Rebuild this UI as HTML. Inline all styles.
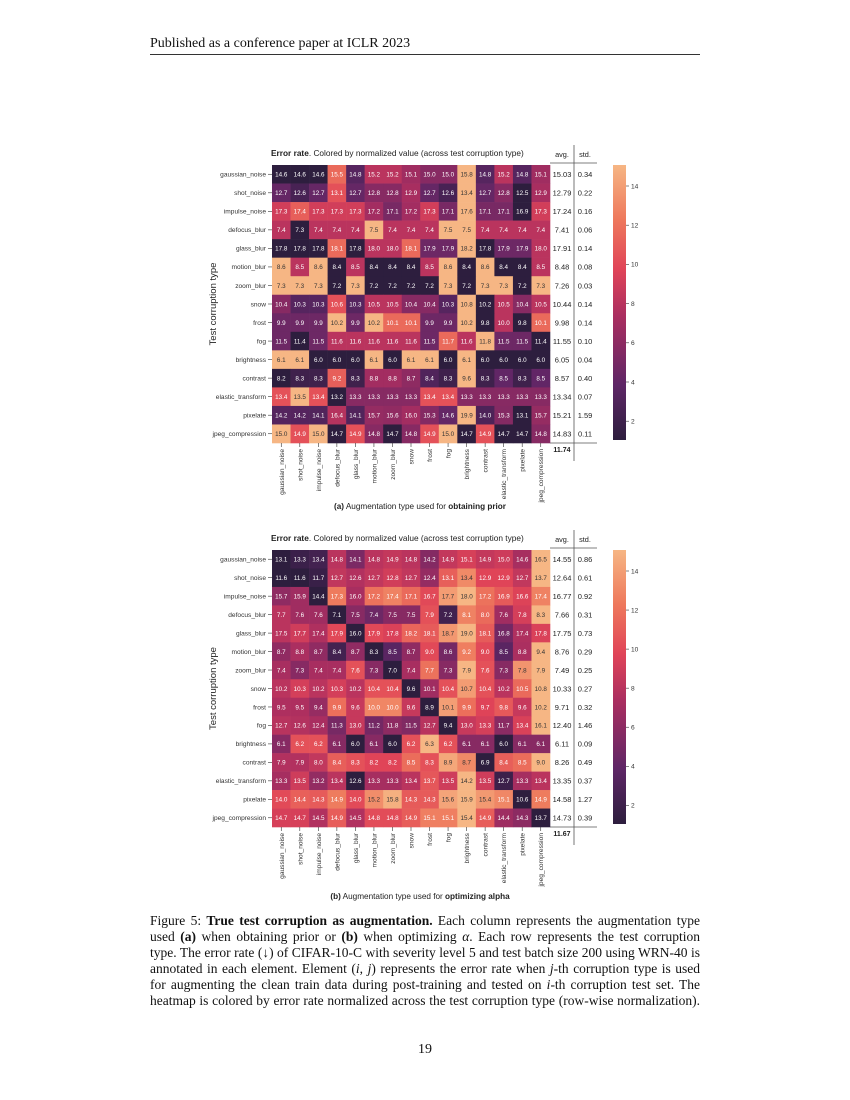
<!DOCTYPE html>
<html><head><meta charset="utf-8">
<style>
html,body{margin:0;padding:0;background:#fff}
body{width:850px;height:1100px;position:relative;overflow:hidden;font-family:"Liberation Serif",serif;color:#111}
#hdr{position:absolute;left:150px;top:36px;font-size:14px}
#hline{position:absolute;left:150px;top:54px;width:550px;height:1px;background:#333}
#cap{position:absolute;left:150px;top:913px;width:550px;font-size:13.5px;line-height:16.1px}
#cap div{text-align:justify;text-align-last:justify;white-space:nowrap}
#cap div.l{text-align-last:left}
#pg{position:absolute;left:0;width:850px;top:1042px;text-align:center;font-size:14px}
svg{position:absolute;left:0;top:0}
</style></head><body>
<div id="hdr">Published as a conference paper at ICLR 2023</div>
<div id="hline"></div>
<svg id="s" width="850" height="1100" font-family="Liberation Sans, DejaVu Sans, sans-serif"></svg>
<div id="cap">
<div>Figure 5: <b>True test corruption as augmentation.</b> Each column represents the augmentation type</div>
<div>used <b>(a)</b> when obtaining prior or <b>(b)</b> when optimizing <i>α</i>. Each row represents the test corruption</div>
<div>type. The error rate (↓) of CIFAR-10-C with severity level 5 and test batch size 200 using WRN-40 is</div>
<div>annotated in each element. Element (<i>i</i>, <i>j</i>) represents the error rate when <i>j</i>-th corruption type is used</div>
<div>for augmenting the clean train data during post-training and tested on <i>i</i>-th corruption test set. The</div>
<div>heatmap is colored by error rate normalized across the test corruption type (row-wise normalization).</div>
</div>
<div id="pg">19</div>
<script>
var L=["gaussian_noise","shot_noise","impulse_noise","defocus_blur","glass_blur","motion_blur","zoom_blur","snow","frost","fog","brightness","contrast","elastic_transform","pixelate","jpeg_compression"];
var A=[
"14.6 14.6 14.6 15.5 14.8 15.2 15.2 15.1 15.0 15.0 15.8 14.8 15.2 14.8 15.1|15.03|0.34",
"12.7 12.6 12.7 13.1 12.7 12.8 12.8 12.9 12.7 12.6 13.4 12.7 12.8 12.5 12.9|12.79|0.22",
"17.3 17.4 17.3 17.3 17.3 17.2 17.1 17.2 17.3 17.1 17.6 17.1 17.1 16.9 17.3|17.24|0.16",
"7.4 7.3 7.4 7.4 7.4 7.5 7.4 7.4 7.4 7.5 7.5 7.4 7.4 7.4 7.4|7.41|0.06",
"17.8 17.8 17.8 18.1 17.8 18.0 18.0 18.1 17.9 17.9 18.2 17.8 17.9 17.9 18.0|17.91|0.14",
"8.6 8.5 8.6 8.4 8.5 8.4 8.4 8.4 8.5 8.6 8.4 8.6 8.4 8.4 8.5|8.48|0.08",
"7.3 7.3 7.3 7.2 7.3 7.2 7.2 7.2 7.2 7.3 7.2 7.3 7.3 7.2 7.3|7.26|0.03",
"10.4 10.3 10.3 10.6 10.3 10.5 10.5 10.4 10.4 10.3 10.8 10.2 10.5 10.4 10.5|10.44|0.14",
"9.9 9.9 9.9 10.2 9.9 10.2 10.1 10.1 9.9 9.9 10.2 9.8 10.0 9.8 10.1|9.98|0.14",
"11.5 11.4 11.5 11.6 11.6 11.6 11.6 11.6 11.5 11.7 11.6 11.8 11.5 11.5 11.4|11.55|0.10",
"6.1 6.1 6.0 6.0 6.0 6.1 6.0 6.1 6.1 6.0 6.1 6.0 6.0 6.0 6.0|6.05|0.04",
"8.2 8.3 8.3 9.2 8.3 8.8 8.8 8.7 8.4 8.3 9.6 8.3 8.5 8.3 8.5|8.57|0.40",
"13.4 13.5 13.4 13.2 13.3 13.3 13.3 13.3 13.4 13.4 13.3 13.3 13.3 13.3 13.3|13.34|0.07",
"14.2 14.2 14.1 16.4 14.1 15.7 15.6 16.0 15.3 14.6 19.9 14.0 15.3 13.1 15.7|15.21|1.59",
"15.0 14.9 15.0 14.7 14.9 14.8 14.7 14.8 14.9 15.0 14.7 14.9 14.7 14.7 14.8|14.83|0.11"];
var B=[
"13.1 13.3 13.4 14.8 14.1 14.8 14.9 14.8 14.2 14.9 15.1 14.9 15.0 14.6 16.5|14.55|0.86",
"11.6 11.6 11.7 12.7 12.6 12.7 12.8 12.7 12.4 13.1 13.4 12.9 12.9 12.7 13.7|12.64|0.61",
"15.7 15.9 14.4 17.3 16.0 17.2 17.4 17.1 16.7 17.7 18.0 17.2 16.9 16.6 17.4|16.77|0.92",
"7.7 7.6 7.6 7.1 7.5 7.4 7.5 7.5 7.9 7.2 8.1 8.0 7.6 7.8 8.3|7.66|0.31",
"17.5 17.7 17.4 17.9 16.0 17.9 17.8 18.2 18.1 18.7 19.0 18.1 16.8 17.4 17.8|17.75|0.73",
"8.7 8.8 8.7 8.4 8.7 8.3 8.5 8.7 9.0 8.6 9.2 9.0 8.5 8.8 9.4|8.76|0.29",
"7.4 7.3 7.4 7.4 7.6 7.3 7.0 7.4 7.7 7.3 7.9 7.6 7.3 7.8 7.9|7.49|0.25",
"10.2 10.3 10.2 10.3 10.2 10.4 10.4 9.6 10.1 10.4 10.7 10.4 10.2 10.5 10.8|10.33|0.27",
"9.5 9.5 9.4 9.9 9.6 10.0 10.0 9.6 8.9 10.1 9.9 9.7 9.8 9.6 10.2|9.71|0.32",
"12.7 12.6 12.4 11.3 13.0 11.2 11.8 11.5 12.7 9.4 13.0 13.3 11.7 13.4 16.1|12.40|1.46",
"6.1 6.2 6.2 6.1 6.0 6.1 6.0 6.2 6.3 6.2 6.1 6.1 6.0 6.1 6.1|6.11|0.09",
"7.9 7.9 8.0 8.4 8.3 8.2 8.2 8.5 8.3 8.9 8.7 6.9 8.4 8.5 9.0|8.26|0.49",
"13.3 13.5 13.2 13.4 12.6 13.3 13.3 13.4 13.7 13.5 14.2 13.5 12.7 13.3 13.4|13.35|0.37",
"14.0 14.4 14.3 14.9 14.0 15.2 15.8 14.3 14.3 15.6 15.9 15.4 15.1 10.6 14.9|14.58|1.27",
"14.7 14.7 14.5 14.9 14.5 14.8 14.8 14.9 15.1 15.1 15.4 14.9 14.4 14.3 13.7|14.73|0.39"];
var stops=[[0,[45,30,62]],[0.2,[94,38,102]],[0.45,[170,46,96]],[0.62,[224,68,88]],[0.8,[238,120,92]],[1,[246,182,132]]];
function cmap(t){for(var i=1;i<stops.length;i++){if(t<=stops[i][0]){var a=stops[i-1],b=stops[i],f=(t-a[0])/(b[0]-a[0]);return "rgb("+[0,1,2].map(function(k){return Math.round(a[1][k]+(b[1][k]-a[1][k])*f)}).join(",")+")";}}return "rgb(246,182,132)";}
var s=document.getElementById("s"),h="";
function T(x,y,txt,o){o=o||{};h+='<text x="'+x+'" y="'+y+'" font-size="'+(o.fs||7)+'"'+(o.a?' text-anchor="'+o.a+'"':'')+(o.fill?' fill="'+o.fill+'"':' fill="#222"')+(o.w?' font-weight="bold"':'')+(o.r?' transform="rotate(-90 '+x+' '+y+')"':'')+'>'+txt+'</text>';}
function draw(D,top,bottom,total,capY,capBold){
 var x0=272,x1=550,cw=(x1-x0)/15,ch=(bottom-top)/15;
 T(271,top-9,'<tspan font-weight="bold">Error rate</tspan>. Colored by normalized value (across test corruption type)',{fs:8.3});
 T(562,top-8,"avg.",{fs:7.3,a:"middle"});T(585,top-8,"std.",{fs:7.3,a:"middle"});
 h+='<line x1="550" y1="'+(top-2)+'" x2="597" y2="'+(top-2)+'" stroke="#555" stroke-width="0.8"/>';
 h+='<line x1="574" y1="'+(top-20)+'" x2="574" y2="'+(bottom+18)+'" stroke="#555" stroke-width="0.8"/>';
 h+='<line x1="550" y1="'+(bottom)+'" x2="597" y2="'+(bottom)+'" stroke="#555" stroke-width="0.8"/>';
 D.forEach(function(r,i){var p=r.split("|"),v=p[0].split(" ").map(Number),mn=Math.min.apply(0,v),mx=Math.max.apply(0,v);
  var y=top+i*ch,cy=y+ch/2+2.3;
  v.forEach(function(val,j){var t=(val-mn)/(mx-mn||1);h+='<rect x="'+(x0+j*cw)+'" y="'+y+'" width="'+(cw+0.3)+'" height="'+(ch+0.3)+'" fill="'+cmap(t)+'"/>';
   T(x0+j*cw+cw/2,cy,val.toFixed(1),{fs:6.3,a:"middle",fill:t>0.85?"#333":"#fff"});});
  T(562,cy+0.5,p[1],{fs:7.5,a:"middle"});T(585,cy+0.5,p[2],{fs:7.5,a:"middle"});
  T(266,cy,L[i],{fs:6.6,a:"end",fill:"#333"});
  h+='<line x1="268" y1="'+(y+ch/2)+'" x2="272" y2="'+(y+ch/2)+'" stroke="#333" stroke-width="0.6"/>';
 });
 for(var j=0;j<15;j++){var cx=x0+j*cw+cw/2;h+='<line x1="'+cx+'" y1="'+bottom+'" x2="'+cx+'" y2="'+(bottom+4)+'" stroke="#333" stroke-width="0.6"/>';
  T(cx+2.5,bottom+6,L[j],{fs:6.6,a:"end",r:1,fill:"#333"});}
 T(562,bottom+9,total,{fs:7,a:"middle",w:1});
 T(216,(top+bottom)/2,"Test corruption type",{fs:9.5,a:"middle",r:1});
 var cb0=top,cb1=bottom-3;
 h+='<rect x="613" y="'+cb0+'" width="13" height="'+(cb1-cb0)+'" fill="url(#g)"/>';
 for(var k=2;k<=14;k+=2){var yy=cb0+21+(14-k)*19.6*(cb1-cb0)/275;h+='<line x1="626" y1="'+yy+'" x2="629" y2="'+yy+'" stroke="#333" stroke-width="0.6"/>';T(631,yy+2.3,k,{fs:6.6,fill:"#333"});}
 T(420,capY,'<tspan font-weight="bold">'+capBold[0]+'</tspan> Augmentation type used for <tspan font-weight="bold">'+capBold[1]+'</tspan>',{fs:8.2,a:"middle"});
}
var g='<defs><linearGradient id="g" x1="0" y1="1" x2="0" y2="0">';
stops.forEach(function(st){g+='<stop offset="'+st[0]+'" stop-color="rgb('+st[1].join(",")+')"/>';});
g+='</linearGradient></defs>';
draw(A,165,443,"11.74",509,["(a)","obtaining prior"]);
draw(B,550,827,"11.67",899,["(b)","optimizing alpha"]);
s.innerHTML=g+h;
</script>
</body></html>
